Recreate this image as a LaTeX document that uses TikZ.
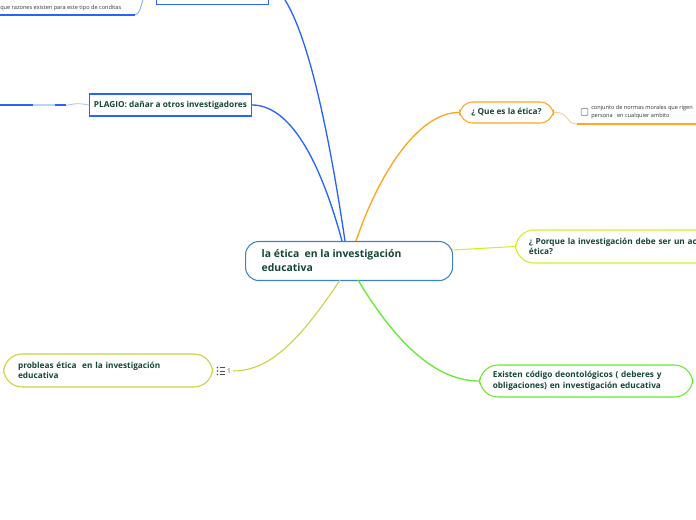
\documentclass[tikz,border=0pt]{standalone}
\usepackage{fontspec}
\setmainfont{Open Sans}
\begin{document}
\begin{tikzpicture}[x=0.75pt,y=-0.75pt,
  txt/.style={text=tc,font=\bfseries\fontsize{6.2}{8}\selectfont,align=left},
  small/.style={text=black!80,font=\fontsize{4.2}{5.5}\selectfont,align=left,inner sep=0pt},
  rbox/.style={draw,line width=0.8pt,rounded corners=10pt,fill=white,minimum height=#1},
]
\definecolor{tc}{RGB}{20,70,55}
\definecolor{cblue}{RGB}{40,100,250}
\definecolor{cmain}{RGB}{60,130,200}
\definecolor{corange}{RGB}{255,165,30}
\definecolor{cyell}{RGB}{215,235,40}
\definecolor{cgreen}{RGB}{100,235,50}
\definecolor{colive}{RGB}{200,210,60}
\useasboundingbox (0,0) rectangle (696,520);
% nodes
\node[rbox=39pt*0.75,draw=cmain,minimum width=207*0.75pt,anchor=north west,inner sep=0pt] (c) at (245,241) {};
\node[txt,font=\bfseries\fontsize{7.8}{10}\selectfont,anchor=west] (ct) at (257,260.5) {la ética\ \ en la investigación\\educativa};
\node[draw=cblue,line width=0.8pt,fill=white,minimum width=112*0.75pt,minimum height=12*0.75pt,anchor=south west,inner sep=0pt] (top) at (156,5) {};
\node[draw=cblue,line width=0.8pt,fill=white,txt,anchor=west,minimum height=22*0.75pt] (pl) at (89,105) {PLAGIO: dañar a otros investigadores};
\node[rbox=21*0.75pt,draw=corange,txt,anchor=west,minimum width=94*0.75pt] (q1) at (459,112.5) {¿ Que es la ética?};
\node[rbox=33*0.75pt,draw=cyell,txt,anchor=west,minimum width=200*0.75pt,text width=130pt,rounded corners=14pt,inner xsep=10pt] (q2) at (515,246.5) {¿ Porque la investigación debe ser un act\\ética?};
\node[rbox=32*0.75pt,draw=cgreen,txt,anchor=west,minimum width=211*0.75pt,text width=140pt,rounded corners=14pt,inner xsep=10pt] (q3) at (479,381) {Existen código deontológicos ( deberes y\\obligaciones) en investigación educativa};
\node[rbox=33*0.75pt,draw=colive,txt,anchor=west,minimum width=209*0.75pt,text width=145pt,rounded corners=14pt] (q4) at (3,370.5) {\hspace*{5pt}probleas ética\ \ en la investigación\\\hspace*{5pt}educativa};
% leaf
\node[small,anchor=west] (leaf) at (591,112) {conjunto de normas morales que rigen\\persona\ \ \ en cualquier ambito};
\node[draw=black!60,line width=0.4pt,minimum size=5pt,inner sep=0pt,rounded corners=0.5pt] (cb) at (584.5,112) {};
\coordinate (lu1) at (577,124); \coordinate (lu2) at (696,124);
\draw[corange,line width=1pt] (lu1) -- (lu2);
\draw[corange!60,line width=0.6pt] (q1.east) .. controls (570,112) and (565,124) .. (lu1);
\node[small,anchor=west] (tl) at (0,8) {que razones existen para este tipo de conditas};
\coordinate (tu1) at (0,15); \coordinate (tu2) at (135,15); \coordinate (tu3) at (143,0);
\draw[cblue,line width=1pt] (tu1) -- (tu2);
\draw[cblue!60,line width=0.6pt] (tu2) .. controls (140,14) and (141,5) .. (tu3);
\coordinate (ll0) at (0,105); \coordinate (ll1) at (33,105); \coordinate (ll2) at (55,105); \coordinate (ll3) at (66,105);
\draw[cblue,line width=1pt] (ll0) -- (ll1);
\draw[cblue!30,line width=1pt] (ll1) -- (ll2);
\draw[cblue,line width=1pt] (ll2) -- (ll3);
\draw[cblue!40,line width=0.6pt] (ll3) .. controls (75,105) and (72,102) .. (pl.west);
% count icon
\foreach \yy in {367.5,371,374.5}{
  \fill[black!70] (217.5,\yy) circle (0.8);
  \draw[black!70,line width=0.7pt] (219.5,\yy) -- (224.5,\yy);
}
\node[text=black!70,font=\fontsize{5}{6}\selectfont,inner sep=0pt] (cnt) at (229,371.5) {1};
% connectors
\draw[cblue,line width=1pt] (345,241) .. controls (330,140) and (310,40) .. (285,0);
\draw[cblue,line width=1pt] (342,241) .. controls (320,160) and (290,105) .. (pl.east);
\draw[corange,line width=1pt] (356,241) .. controls (380,170) and (420,112) .. (q1.west);
\draw[cyell,line width=0.8pt] (452,250) -- (q2.west);
\draw[cgreen,line width=1pt] (358,280) .. controls (400,350) and (440,381) .. (q3.west);
\draw[colive,line width=0.8pt] (340,280) .. controls (300,340) and (270,371) .. (233,371);
\end{tikzpicture}
\end{document}
